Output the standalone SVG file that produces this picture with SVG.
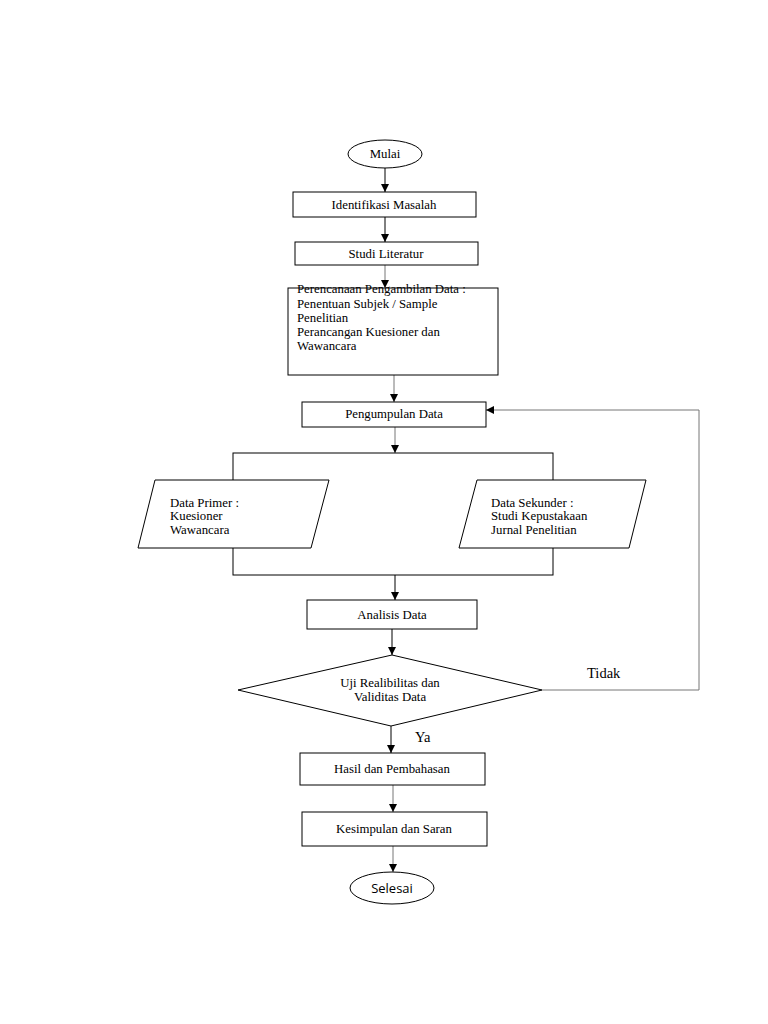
<svg xmlns="http://www.w3.org/2000/svg" width="768" height="1024" viewBox="0 0 768 1024">
<style>
.box{fill:#fff;stroke:#000;stroke-width:1}
.t{font-family:"Liberation Serif","Times New Roman",serif;font-size:12.8px;fill:#000}
.c{text-anchor:middle}
.lbl{font-family:"Liberation Serif","Times New Roman",serif;font-size:14.5px;fill:#000}
.ln{fill:none;stroke:#000;stroke-width:1}
.lg{fill:none;stroke:#777;stroke-width:1}
</style>
<defs>
<marker id="ah" viewBox="0 0 10 10" refX="10" refY="5" markerWidth="8" markerHeight="8" markerUnits="userSpaceOnUse" orient="auto">
<path d="M0,0 L10,5 L0,10 z" fill="#000"/>
</marker>
</defs>
<rect width="768" height="1024" fill="#fff"/>
<g id="connectors">
<line class="ln" x1="385" y1="168" x2="385" y2="192" marker-end="url(#ah)"/>
<line class="ln" x1="385" y1="217" x2="385" y2="242" marker-end="url(#ah)"/>
<line class="lg" x1="385" y1="265" x2="385" y2="288" marker-end="url(#ah)"/>
<line class="lg" x1="394" y1="375" x2="394" y2="402" marker-end="url(#ah)"/>
<line class="lg" x1="395" y1="427" x2="395" y2="453" marker-end="url(#ah)"/>
<line class="ln" x1="395" y1="575" x2="395" y2="600" marker-end="url(#ah)"/>
<line class="ln" x1="392" y1="629" x2="392" y2="655" marker-end="url(#ah)"/>
<line class="ln" x1="391" y1="726" x2="391" y2="753" marker-end="url(#ah)"/>
<line class="lg" x1="393" y1="785" x2="393" y2="812" marker-end="url(#ah)"/>
<line class="lg" x1="393" y1="846" x2="393" y2="872" marker-end="url(#ah)"/>
<polyline class="lg" points="542,690 699,690 699,410 486,410" marker-end="url(#ah)"/>
<text class="lbl" x="587" y="678">Tidak</text>
<text class="lbl" x="415" y="742">Ya</text>
</g>
<g id="mulai">
<ellipse class="box" cx="385" cy="154" rx="37" ry="14"/>
<text class="t c" x="385" y="158">Mulai</text>
</g>
<g id="identifikasi">
<rect class="box" x="293" y="192" width="183" height="25"/>
<text class="t c" x="384" y="209">Identifikasi Masalah</text>
</g>
<g id="studi">
<rect class="box" x="295" y="242" width="183" height="23"/>
<text class="t c" x="386" y="258">Studi Literatur</text>
</g>
<g id="perencanaan">
<rect class="box" x="288" y="288" width="210" height="87"/>
<text class="t" x="297" y="293">Perencanaan Pengambilan Data :</text>
<text class="t" x="297" y="308">Penentuan Subjek / Sample</text>
<text class="t" x="297" y="322">Penelitian</text>
<text class="t" x="297" y="336">Perancangan Kuesioner dan</text>
<text class="t" x="297" y="350">Wawancara</text>
</g>
<g id="pengumpulan">
<rect class="box" x="302" y="402" width="184" height="25"/>
<text class="t c" x="394" y="418">Pengumpulan Data</text>
</g>
<g id="group-data">
<rect class="box" x="233" y="453" width="320" height="122"/>
</g>
<g id="data-primer">
<polygon class="box" points="155,480 329,480 311,548 138,548"/>
<text class="t" x="170" y="507">Data Primer :</text>
<text class="t" x="170" y="520">Kuesioner</text>
<text class="t" x="170" y="534">Wawancara</text>
</g>
<g id="data-sekunder">
<polygon class="box" points="477,480 646,480 629,548 459,548"/>
<text class="t" x="491" y="507">Data Sekunder :</text>
<text class="t" x="491" y="520">Studi Kepustakaan</text>
<text class="t" x="491" y="534">Jurnal Penelitian</text>
</g>
<g id="analisis">
<rect class="box" x="307" y="600" width="170" height="29"/>
<text class="t c" x="392" y="619">Analisis Data</text>
</g>
<g id="uji">
<polygon class="box" points="392,655 542,690 391,726 238,690"/>
<text class="t c" x="390" y="687">Uji Realibilitas dan</text>
<text class="t c" x="390" y="701">Validitas Data</text>
</g>
<g id="hasil">
<rect class="box" x="300" y="753" width="185" height="32"/>
<text class="t c" x="392" y="773">Hasil dan Pembahasan</text>
</g>
<g id="kesimpulan">
<rect class="box" x="302" y="812" width="185" height="34"/>
<text class="t c" x="394" y="833">Kesimpulan dan Saran</text>
</g>
<g id="selesai">
<ellipse class="box" cx="392" cy="888" rx="42" ry="16"/>
<text x="392" y="893" text-anchor="middle" font-family="'Open Sans','Noto Sans',sans-serif" font-size="13" fill="#000">Selesai</text>
</g>
</svg>
